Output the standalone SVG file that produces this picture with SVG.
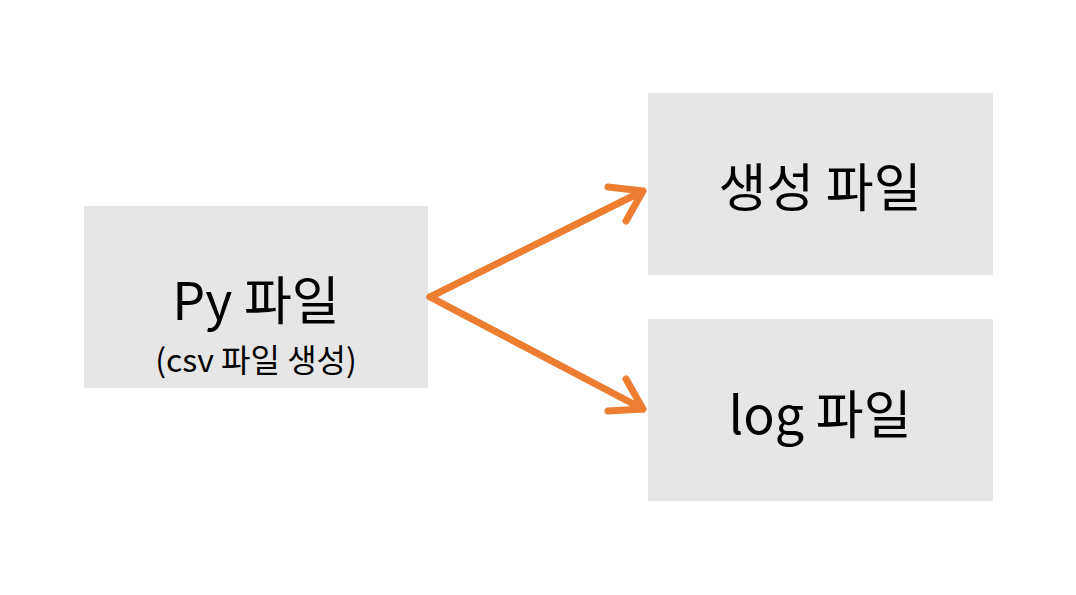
<svg xmlns="http://www.w3.org/2000/svg" width="1076" height="595" viewBox="0 0 1076 595">
<style>
.box{fill:#e6e6e6}
.t{font-family:"Noto Sans CJK KR","Noto Sans",sans-serif;fill:#000;text-anchor:middle}
.c{stroke:#ed7d31;stroke-width:7;fill:none;stroke-linecap:round;stroke-linejoin:round}
</style>
<rect width="1076" height="595" fill="#fff"/>
<g id="py"><rect class="box" x="84" y="206" width="344" height="182"/>
<text class="t" x="256" y="320" font-size="52">Py 파일</text>
<text class="t" x="256" y="372" font-size="32">(csv 파일 생성)</text></g>
<g id="gen"><rect class="box" x="648" y="93" width="345" height="182"/>
<text class="t" x="820" y="207" font-size="52">생성 파일</text></g>
<g id="log"><rect class="box" x="648" y="319" width="345" height="182"/>
<text class="t" x="820" y="434" font-size="52">log 파일</text></g>
<g id="connectors">
<path class="c" d="M430 297 L643 191 M608 187 L643 191 L626 221"/>
<path class="c" d="M430 297 L643 409 M626 379 L643 409 L608 411"/>
</g>
</svg>
